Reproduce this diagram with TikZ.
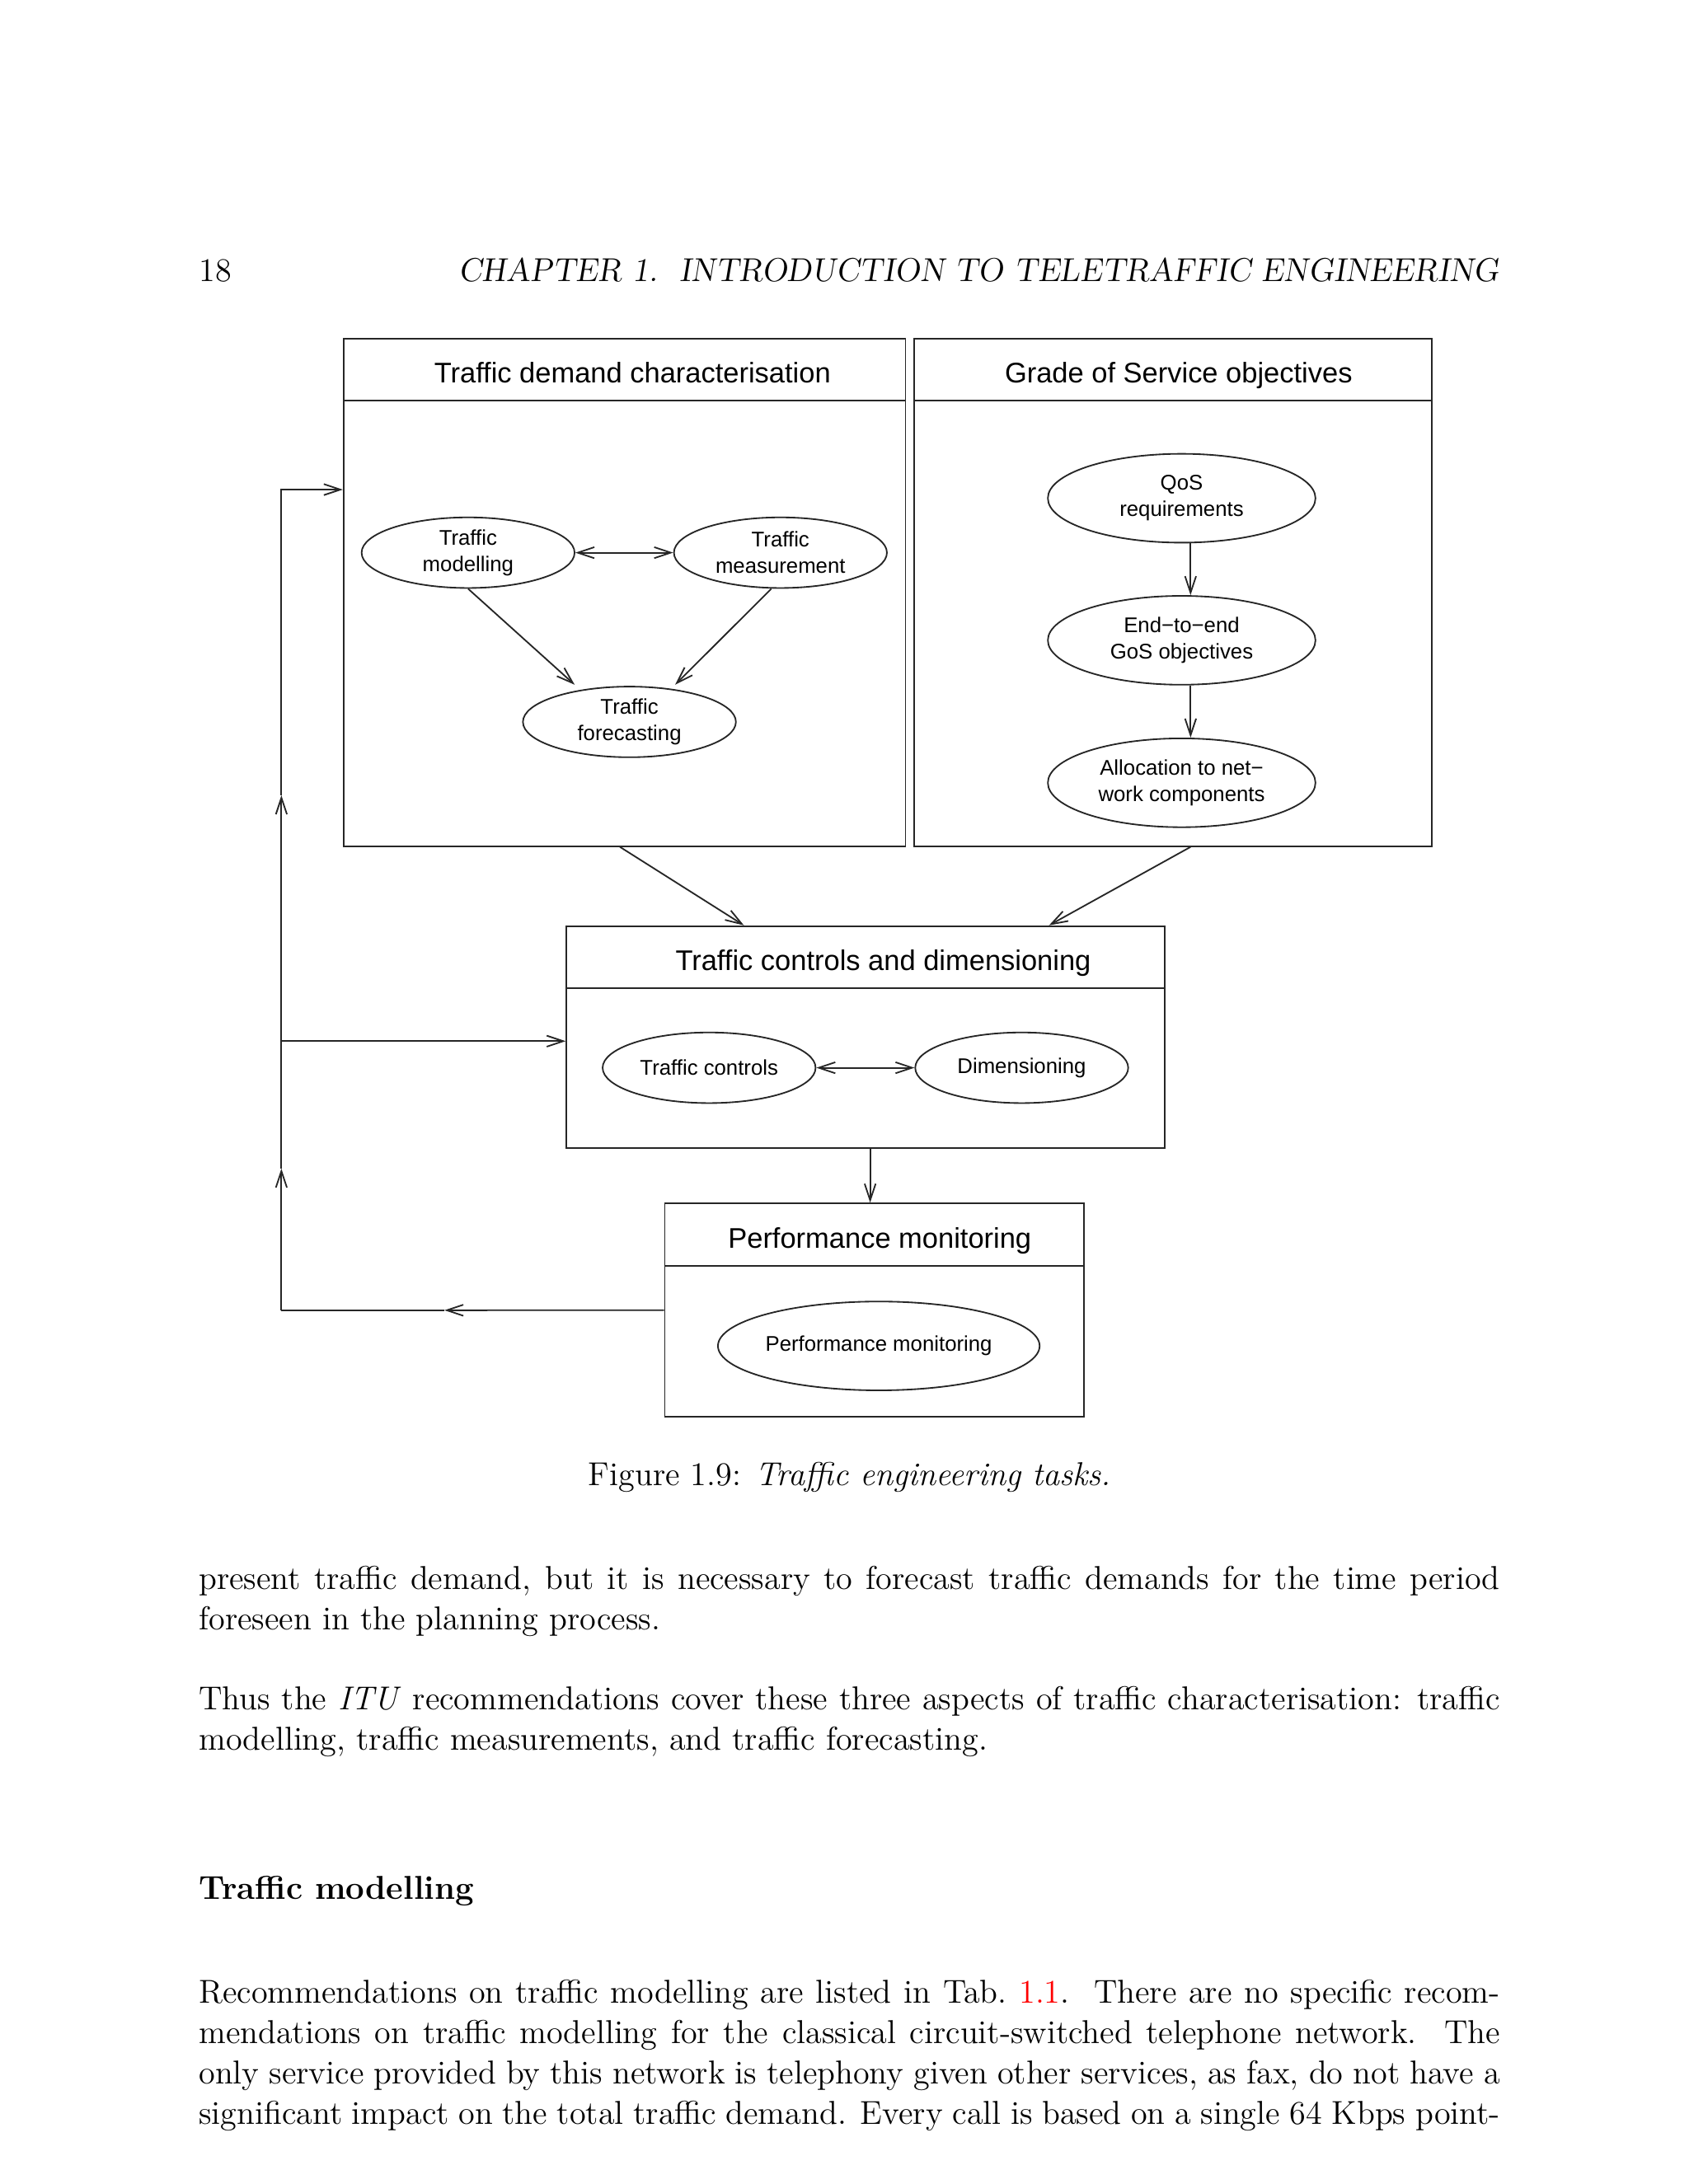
\documentclass[tikz,border=0pt]{standalone}
\usepackage{fontspec}
\newfontfamily\arialfam{Liberation Sans}
\usetikzlibrary{arrows.meta,shapes.geometric,fit}
\newcommand\JustLine[1]{\makebox[471.6pt][s]{#1}}
\begin{document}
\begin{tikzpicture}[x=0.50495pt, y=-0.50495pt,
  ln/.style={line width=0.55pt, draw=black!85},
  box/.style={ln, rectangle, inner sep=0pt},
  arr/.style={ln, -{Straight Barb[length=6pt,width=4pt,line width=0.55pt]}},
  darr/.style={ln, {Straight Barb[length=6pt,width=4pt,line width=0.55pt]}-{Straight Barb[length=6pt,width=4pt,line width=0.55pt]}},
  ttl/.style={anchor=base, inner sep=0pt, font={\arialfam\fontsize{10.3pt}{12pt}\selectfont}},
  ell/.style={ln, ellipse, inner xsep=-2pt, inner ysep=-4pt, align=center,
    font={\arialfam\fontsize{7.7pt}{9.6pt}\selectfont}},
  ellS/.style={ell, minimum width=77.2pt, minimum height=25.6pt},
  ellB/.style={ell, minimum width=97pt, minimum height=32.2pt},
  ellP/.style={ell, minimum width=116.6pt, minimum height=32.2pt},
  body/.style={anchor=mid west, inner sep=0pt, font={\fontsize{12pt}{14.5pt}\selectfont}}
]
\fill[white] (0,0) rectangle (1212,1568);
\useasboundingbox (0,0) rectangle (1212,1568);

% running head
\node[anchor=base west, inner sep=0pt, font={\fontsize{12pt}{14.5pt}\selectfont}] (pg) at (142.4,202) {18};
\node[anchor=base east, inner sep=0pt, font={\fontsize{12pt}{14.5pt}\selectfont\slshape}] (hd) at (1076.5,202) {CHAPTER 1.\ \ INTRODUCTION TO TELETRAFFIC ENGINEERING};

% boxes
\coordinate (A1) at (246.6,243);   \coordinate (A2) at (650,607.5);
\coordinate (B1) at (656.3,243);   \coordinate (B2) at (1027.7,607.5);
\coordinate (C1) at (406.6,664.9); \coordinate (C2) at (836,824.2);
\coordinate (D1) at (477.2,864);   \coordinate (D2) at (778.2,1017.3);
\node[box, fit=(A1)(A2)] (A) {};
\node[box, fit=(B1)(B2)] (B) {};
\node[box, fit=(C1)(C2)] (C) {};
\node[box, fit=(D1)(D2)] (D) {};
\coordinate (Ad) at (0,287.8);
\coordinate (Cd) at (0,709.4);
\coordinate (Dd) at (0,908.8);
\draw[ln] (A.west |- Ad) -- (A.east |- Ad);
\draw[ln] (B.west |- Ad) -- (B.east |- Ad);
\draw[ln] (C.west |- Cd) -- (C.east |- Cd);
\draw[ln] (D.west |- Dd) -- (D.east |- Dd);
\node[ttl] (At) at (454,275.1) {Traffic demand characterisation};
\node[ttl] (Bt) at (846,275.1) {Grade of Service objectives};
\node[ttl] (Ct) at (634,696.7) {Traffic controls and dimensioning};
\node[ttl] (Dt) at (631.5,896.1) {Performance monitoring};

% ellipses
\node[ellS] (TM)  at (336,396.8)   {Traffic\\modelling};
\node[ellS] (TMe) at (560.2,396.8) {Traffic\\measurement};
\node[ellS] (TF)  at (451.8,518.3) {Traffic\\forecasting};
\node[ellB] (Q)   at (848.2,357.7) {QoS\\requirements};
\node[ellB] (E)   at (848.2,459.7) {End−to−end\\GoS objectives};
\node[ellB] (AL)  at (848.2,562)   {Allocation to net−\\work components};
\node[ellS] (TC)  at (509,766.6)   {Traffic controls};
\node[ellS] (DM)  at (733.4,766.6) {Dimensioning};
\node[ellP] (PM)  at (630.8,966.3) {Performance monitoring};

% helper coordinates
\coordinate (f1) at (412.5,491.6);
\coordinate (f2) at (484.6,491.6);
\coordinate (xm2) at (553.7,0);
\coordinate (xB) at (854.6,0);
\coordinate (xA) at (445,0);
\coordinate (xCa) at (534,0);
\coordinate (xCb) at (753,0);
\coordinate (xCD) at (624.6,0);

% connectors inside boxes
\draw[darr] (TM.east) -- (TMe.west);
\draw[arr] (TM.south) -- (f1);
\draw[arr] (TMe.south -| xm2) -- (f2);
\draw[arr] (Q.south -| xB) -- (E.north -| xB);
\draw[arr] (E.south -| xB) -- (AL.north -| xB);
\draw[darr] (TC.east) -- (DM.west);

% connectors between boxes
\draw[arr] (A.south -| xA) -- (C.north -| xCa);
\draw[arr] (B.south -| xB) -- (C.north -| xCb);
\draw[arr] (C.south -| xCD) -- (D.north -| xCD);

% feedback loop
\coordinate (tipL) at (319,940.7);
\coordinate (fbL) at (202,940.7);
\coordinate (tipU1) at (202,839);
\coordinate (fbB) at (202,747.5);
\coordinate (tipU2) at (202,571);
\coordinate (fbT) at (202,351.5);
\draw[arr] (D.west) -- (tipL);
\draw[ln] (tipL) -- (fbL);
\draw[arr] (fbL) -- (tipU1);
\draw[arr] (tipU1) -- (tipU2);
\draw[arr] (tipU2) -- (fbT) -- (A.west |- fbT);
\draw[arr] (fbB) -- (C.west |- fbB);

% caption and body text
\node[anchor=mid, inner sep=0pt, font={\fontsize{12pt}{14.5pt}\selectfont}] (cap) at (610,1062.5) {Figure 1.9: \textit{Traffic engineering tasks.}};
\node[body] (l1) at (142.4,1137) {\JustLine{present traffic demand, but it is necessary to forecast traffic demands for the time period}};
\node[body] (l2) at (142.4,1166) {foreseen in the planning process.};
\node[body] (l3) at (142.4,1223) {\JustLine{Thus the \textit{ITU} recommendations cover these three aspects of traffic characterisation: traffic}};
\node[body] (l4) at (142.4,1252) {modelling, traffic measurements, and traffic forecasting.};
\node[body] (hh) at (142.4,1359) {\textbf{Traffic modelling}};
\node[body] (l5) at (142.4,1434) {\JustLine{Recommendations on traffic modelling are listed in Tab.~\textcolor{red}{1.1}.\ \ There are no specific recom-}};
\node[body] (l6) at (142.4,1463) {\JustLine{mendations on traffic modelling for the classical circuit-switched telephone network.\ \ The}};
\node[body] (l7) at (142.4,1492) {\JustLine{only service provided by this network is telephony given other services, as fax, do not have a}};
\node[body] (l8) at (142.4,1521) {\JustLine{significant impact on the total traffic demand. Every call is based on a single 64 Kbps point-}};
\end{tikzpicture}
\end{document}
